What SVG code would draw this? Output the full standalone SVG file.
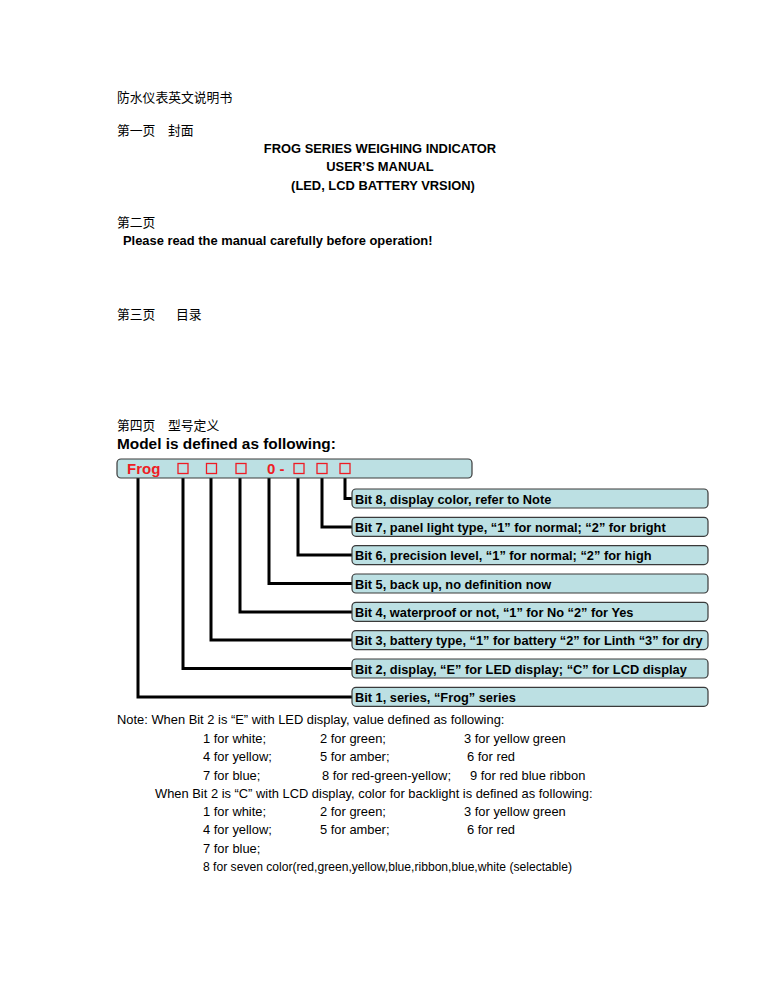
<svg xmlns="http://www.w3.org/2000/svg" width="768" height="994" viewBox="0 0 768 994">
<style>
.cn{font-family:"Noto Sans CJK SC","Liberation Sans",sans-serif;font-size:12.8px;fill:#000}
.tb{font-family:"Liberation Sans",Arial,sans-serif;font-weight:bold;font-size:12.9px;fill:#000}
.h{font-family:"Liberation Sans",Arial,sans-serif;font-weight:bold;font-size:15.4px;fill:#000}
.n{font-family:"Liberation Sans",Arial,sans-serif;font-size:12.9px;fill:#000}
.lbl{font-family:"Liberation Sans",Arial,sans-serif;font-weight:bold;font-size:12.8px;fill:#000}
.box{fill:#bce0e3;stroke:#3a3a3a;stroke-width:1.2}
.red{font-family:"Liberation Sans",Arial,sans-serif;font-weight:bold;font-size:15px;fill:#ee1c24}
.sq{fill:none;stroke:#ee1c24;stroke-width:1.3}
.con{fill:none;stroke:#000;stroke-width:3}
</style>
<rect width="768" height="994" fill="#fff"/>
<g id="header">
<text class="cn" x="117" y="102">防水仪表英文说明书</text>
<text class="cn" x="117" y="135">第一页<tspan x="168">封面</tspan></text>
<text class="tb" x="380" y="153" text-anchor="middle">FROG SERIES WEIGHING INDICATOR</text>
<text class="tb" x="380" y="171" text-anchor="middle">USER’S MANUAL</text>
<text class="tb" x="383" y="190" text-anchor="middle">(LED, LCD BATTERY VRSION)</text>
<text class="cn" x="117" y="227">第二页</text>
<text class="tb" x="123" y="245">Please read the manual carefully before operation!</text>
<text class="cn" x="117" y="319">第三页<tspan x="176">目录</tspan></text>
<text class="cn" x="117" y="430">第四页<tspan x="168">型号定义</tspan></text>
<text class="h" x="117" y="449">Model is defined as following:</text>
</g>
<g id="connectors">
<path class="con" d="M345,478 V498.5 H352"/>
<path class="con" d="M322,478 V527 H352"/>
<path class="con" d="M298,478 V555 H352"/>
<path class="con" d="M269,478 V583.5 H352"/>
<path class="con" d="M240,478 V612 H352"/>
<path class="con" d="M211,478 V640 H352"/>
<path class="con" d="M183,478 V668.5 H352"/>
<path class="con" d="M138,478 V697 H352"/>
</g>
<g id="model-bar">
<rect class="box" x="117" y="459" width="355" height="19" rx="4"/>
<text class="red" x="127" y="474">Frog</text>
<rect class="sq" x="178" y="463.5" width="10" height="10"/>
<rect class="sq" x="206.5" y="463.5" width="10" height="10"/>
<rect class="sq" x="236" y="463.5" width="10" height="10"/>
<text class="red" x="267" y="474">0 -</text>
<rect class="sq" x="294" y="463.5" width="10" height="10"/>
<rect class="sq" x="317" y="463.5" width="10" height="10"/>
<rect class="sq" x="340" y="463.5" width="10" height="10"/>
</g>
<g id="bit8"><rect class="box" x="352" y="489" width="356" height="19" rx="4"/><text class="lbl" x="355" y="503.5">Bit 8, display color, refer to Note</text></g>
<g id="bit7"><rect class="box" x="352" y="517.3" width="356" height="19" rx="4"/><text class="lbl" x="355" y="531.8">Bit 7, panel light type, “1” for normal; “2” for bright</text></g>
<g id="bit6"><rect class="box" x="352" y="545.6" width="356" height="19" rx="4"/><text class="lbl" x="355" y="560.1">Bit 6, precision level, “1” for normal; “2” for high</text></g>
<g id="bit5"><rect class="box" x="352" y="574" width="356" height="19" rx="4"/><text class="lbl" x="355" y="588.5">Bit 5, back up, no definition now</text></g>
<g id="bit4"><rect class="box" x="352" y="602.3" width="356" height="19" rx="4"/><text class="lbl" x="355" y="616.8">Bit 4, waterproof or not, “1” for No “2” for Yes</text></g>
<g id="bit3"><rect class="box" x="352" y="630.6" width="356" height="19" rx="4"/><text class="lbl" x="355" y="645.1">Bit 3, battery type, “1” for battery “2” for Linth “3” for dry</text></g>
<g id="bit2"><rect class="box" x="352" y="659" width="356" height="19" rx="4"/><text class="lbl" x="355" y="673.5">Bit 2, display, “E” for LED display; “C” for LCD display</text></g>
<g id="bit1"><rect class="box" x="352" y="687.3" width="356" height="19" rx="4"/><text class="lbl" x="355" y="701.8">Bit 1, series, “Frog” series</text></g>
<g id="note">
<text class="n" x="117" y="724">Note: When Bit 2 is “E” with LED display, value defined as following:</text>
<text class="n" x="203" y="743">1 for white;<tspan x="320">2 for green;</tspan><tspan x="464">3 for yellow green</tspan></text>
<text class="n" x="203" y="761">4 for yellow;<tspan x="320">5 for amber;</tspan><tspan x="467">6 for red</tspan></text>
<text class="n" x="203" y="780">7 for blue;<tspan x="322">8 for red-green-yellow;</tspan><tspan x="470">9 for red blue ribbon</tspan></text>
<text class="n" x="155" y="798">When Bit 2 is “C” with LCD display, color for backlight is defined as following:</text>
<text class="n" x="203" y="816">1 for white;<tspan x="320">2 for green;</tspan><tspan x="464">3 for yellow green</tspan></text>
<text class="n" x="203" y="834">4 for yellow;<tspan x="320">5 for amber;</tspan><tspan x="467">6 for red</tspan></text>
<text class="n" x="203" y="853">7 for blue;</text>
<text class="n" x="203" y="871" textLength="369" lengthAdjust="spacingAndGlyphs">8 for seven color(red,green,yellow,blue,ribbon,blue,white (selectable)</text>
</g>
</svg>
